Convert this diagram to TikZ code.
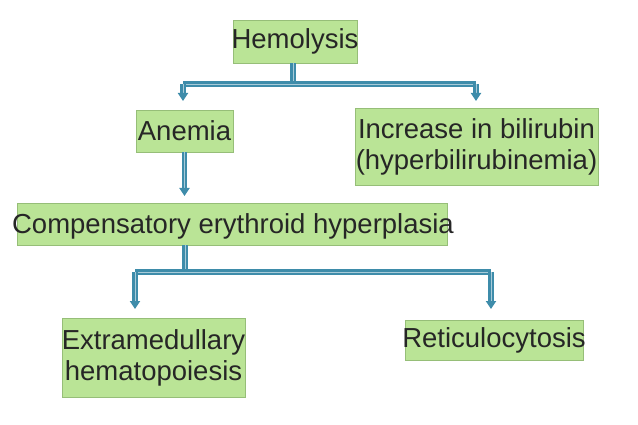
\documentclass[tikz,border=0pt]{standalone}
\usepackage{fontspec}
\setmainfont{Liberation Sans}
\usetikzlibrary{arrows.meta}
\definecolor{boxfill}{RGB}{186,228,150}
\definecolor{boxline}{RGB}{150,190,120}
\definecolor{conn}{RGB}{62,140,170}
\tikzset{
  box/.style={draw=boxline, fill=boxfill, line width=0.8pt, inner sep=0pt},
  lbl/.style={font=\fontsize{27.5}{31}\selectfont, text=black!85, align=center},
  link/.style={draw=conn, line width=2.6pt, double=conn!45, double distance=0.6pt},
  tip/.style={-{Triangle[length=8pt,width=10pt]}}
}
\begin{document}
\begin{tikzpicture}[x=1pt,y=-1pt]
\useasboundingbox (0,0) rectangle (638,425);
\node[box,minimum width=124pt,minimum height=43pt] (h) at (295,41.5) {};
\node[lbl] at (h) {Hemolysis};
\node[box,minimum width=97pt,minimum height=42pt] (a) at (184.5,131) {};
\node[lbl] at (a) {Anemia};
\node[box,minimum width=243pt,minimum height=77pt] (b) at (476.5,146.5) {};
\node[lbl] at (b) {Increase in bilirubin\\(hyperbilirubinemia)};
\node[box,minimum width=430pt,minimum height=42pt] (c) at (232,224) {};
\node[lbl] at (233,226) {Compensatory erythroid hyperplasia};
\node[box,minimum width=183pt,minimum height=79pt] (e) at (153.5,357.5) {};
\node[lbl] at (e) {Extramedullary\\hematopoiesis};
\node[box,minimum width=178pt,minimum height=40pt] (r) at (494,340) {};
\node[lbl] at (r) {Reticulocytosis};
\coordinate (j1) at (293,84);
\coordinate (j2) at (185,272);
\draw[link] (h.south -| j1) -- (j1);
\draw[link] (183,84) -- (476,84);
\draw[link,tip] (183,84) -- (183,101);
\draw[link,tip] (476,84) -- (476,101);
\draw[link,tip] (a.south) -- (184.5,196);
\draw[link] (c.south -| j2) -- (j2);
\draw[link] (135,272) -- (491,272);
\draw[link,tip] (135,272) -- (135,309);
\draw[link,tip] (491,272) -- (491,309);
\end{tikzpicture}
\end{document}
